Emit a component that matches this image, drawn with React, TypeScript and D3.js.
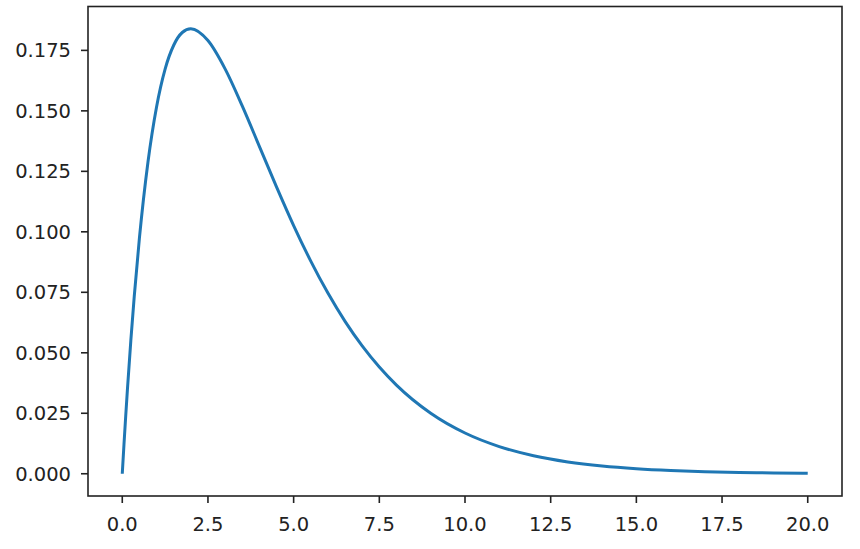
import React from "react";
import * as d3 from "d3";

const xValues = [0, 0.05, 0.1, 0.15, 0.25, 0.35, 0.5, 0.75, 1, 1.25, 1.5, 1.75, 2, 2.5, 3, 3.5, 4, 4.5, 5, 5.5, 6, 6.5, 7, 7.5, 8, 9, 10, 11, 12, 13, 14, 15, 16, 17, 18, 19, 20];
const yValues = [0, 0.01219, 0.02378, 0.0348, 0.05516, 0.07346, 0.09735, 0.12887, 0.15163, 0.16727, 0.17712, 0.18239, 0.18394, 0.17906, 0.16735, 0.15205, 0.13534, 0.1186, 0.10261, 0.0879, 0.07468, 0.063, 0.05284, 0.0441, 0.03663, 0.025, 0.01684, 0.01124, 0.00744, 0.00489, 0.00319, 0.00207, 0.00134, 0.00087, 0.000555, 0.00036, 0.000227];
const xTicks = [0, 2.5, 5, 7.5, 10, 12.5, 15, 17.5, 20];
const yTicks = [0, 0.025, 0.05, 0.075, 0.1, 0.125, 0.15, 0.175];

const W = 860, H = 549;
const L = 88, R = 842, T = 6.5, B = 496;
const FONT = "'DejaVu Sans', sans-serif";

export default function App() {
  const yMax = d3.max(yValues) as number;
  const pad = yMax * 0.05;
  const x = d3.scaleLinear().domain([-1, 21]).range([L, R]);
  const y = d3.scaleLinear().domain([-pad, yMax + pad]).range([B, T]);
  const data = xValues.map((v, i) => [v, yValues[i]] as [number, number]);
  const line = d3.line<[number, number]>().x(d => x(d[0])).y(d => y(d[1])).curve(d3.curveMonotoneX);

  return (
    <svg width={W} height={H} style={{ position: "absolute", left: 0, top: 0, background: "#fff" }}>
      <rect x={0} y={0} width={W} height={H} fill="#fff" />
      <path d={line(data) || ""} fill="none" stroke="#1f77b4" strokeWidth={3} strokeLinejoin="round" strokeLinecap="butt" />
      <rect x={L} y={T} width={R - L} height={B - T} fill="none" stroke="#222" strokeWidth={1.6} />
      {xTicks.map(t => (
        <g key={"x" + t}>
          <line x1={x(t)} x2={x(t)} y1={B} y2={B + 7} stroke="#222" strokeWidth={1.6} />
          <text x={x(t)} y={531} textAnchor="middle" fontFamily={FONT} fontSize={19.5} fill="#222">{t.toFixed(1)}</text>
        </g>
      ))}
      {yTicks.map(t => (
        <g key={"y" + t}>
          <line x1={L - 7} x2={L} y1={y(t)} y2={y(t)} stroke="#222" strokeWidth={1.6} />
          <text x={71} y={y(t)} dy="0.35em" textAnchor="end" fontFamily={FONT} fontSize={19.5} fill="#222">{t.toFixed(3)}</text>
        </g>
      ))}
    </svg>
  );
}
